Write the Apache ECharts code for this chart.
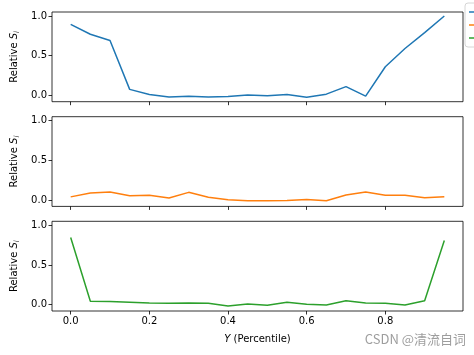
<!DOCTYPE html>
<html><head><meta charset="utf-8">
<script src="https://cdn.jsdelivr.net/npm/echarts@6/dist/echarts.min.js"></script>
<style>html,body{margin:0;padding:0;background:#fff}#c{width:474px;height:355px}</style>
</head><body><div id="c"></div>
<script>
const percentiles = [0,0.05,0.1,0.15,0.2,0.25,0.3,0.35,0.4,0.45,0.5,0.55,0.6,0.65,0.7,0.75,0.8,0.85,0.9,0.95];
const seriesA = [0.895,0.77,0.69,0.075,0.01,-0.02,-0.01,-0.02,-0.015,0.005,-0.005,0.01,-0.025,0.015,0.11,-0.01,0.36,0.59,0.79,1.0];
const seriesB = [0.04,0.09,0.10,0.055,0.06,0.025,0.097,0.035,0.005,-0.01,-0.01,-0.005,0.008,-0.01,0.063,0.10,0.06,0.06,0.03,0.04];
const seriesC = [0.845,0.042,0.04,0.03,0.02,0.017,0.02,0.017,-0.017,0.008,-0.008,0.03,0.004,-0.004,0.05,0.02,0.017,-0.004,0.05,0.807];
const seriesNames = ['S1','S2','S3'];
const xTicks = [0,0.2,0.4,0.6,0.8];
const yTicks = [0,0.5,1.0];
const colors = ['#1f77b4','#ff7f0e','#2ca02c'];

const font = 'DejaVu Sans';
const tops = [12, 116.7, 221.3];
const H = 89.7;
const grids = tops.map(t => ({left:52, width:411, top:t, height:H, show:true, borderColor:'#000', borderWidth:0.8, backgroundColor:'transparent'}));
const xAxes = tops.map((t,i) => ({
  type:'value', gridIndex:i, min:-0.0475, max:0.9975, position:'bottom',
  splitLine:{show:false}, axisLine:{show:false, onZero:false},
  axisTick:{show:true, length:3.5, lineStyle:{color:'#000',width:0.8}, customValues:xTicks},
  axisLabel:{show:i===2, customValues:xTicks, formatter:v=>v.toFixed(1), color:'#000', fontFamily:font, fontSize:10, margin:5},
  name: i===2 ? '{it|Y} (Percentile)' : '',
  nameLocation:'middle', nameGap:23,
  nameTextStyle:{color:'#000', fontFamily:font, fontSize:10, rich:{it:{fontStyle:'italic', fontFamily:font, fontSize:10, color:'#000'}}}
}));
const yAxes = tops.map((t,i) => ({
  type:'value', gridIndex:i, min:-0.08, max:1.05, position:'left',
  splitLine:{show:false}, axisLine:{show:false, onZero:false},
  axisTick:{show:true, length:3.5, lineStyle:{color:'#000',width:0.8}, customValues:yTicks},
  axisLabel:{customValues:yTicks, formatter:v=>v.toFixed(1), color:'#000', fontFamily:font, fontSize:10, margin:5},
  name:'{n|Relative }{s|S}{i|i}', nameLocation:'middle', nameGap:27, nameRotate:90,
  nameTextStyle:{color:'#000', fontFamily:font, fontSize:10, rich:{
    n:{fontFamily:font, fontSize:10, color:'#000'},
    s:{fontFamily:font, fontSize:10, fontStyle:'italic', color:'#000'},
    i:{fontFamily:font, fontSize:7, fontStyle:'italic', color:'#000', verticalAlign:'bottom', padding:[4,0,0,0]}
  }}
}));
const dataSets = [seriesA, seriesB, seriesC];
const series = dataSets.map((d,i) => ({
  name: seriesNames[i], type:'line', xAxisIndex:i, yAxisIndex:i,
  data: percentiles.map((x,k)=>[x,d[k]]),
  showSymbol:false, symbol:'none', lineStyle:{color:colors[i], width:1.5}, itemStyle:{color:colors[i]},
  animation:false, silent:true
}));
const chart = echarts.init(document.getElementById('c'), null, {renderer:'canvas'});
chart.setOption({
  animation:false,
  backgroundColor:'#fff',
  grid: grids, xAxis: xAxes, yAxis: yAxes, series,
  legend:{data:seriesNames, orient:'vertical', left:465, top:3, padding:[4,6,4,4], itemGap:3,
    itemWidth:20, itemHeight:1.5, icon:'rect', borderColor:'#ccc', borderWidth:0.8, borderRadius:3,
    backgroundColor:'#fff', textStyle:{fontFamily:font, fontSize:10, color:'#000'}},
  graphic:[{type:'text', right:8, top:333, style:{text:'CSDN @清流自词', font:'13px "Noto Sans CJK SC"', fill:'rgba(140,140,140,0.85)'}}]
});
</script></body></html>
